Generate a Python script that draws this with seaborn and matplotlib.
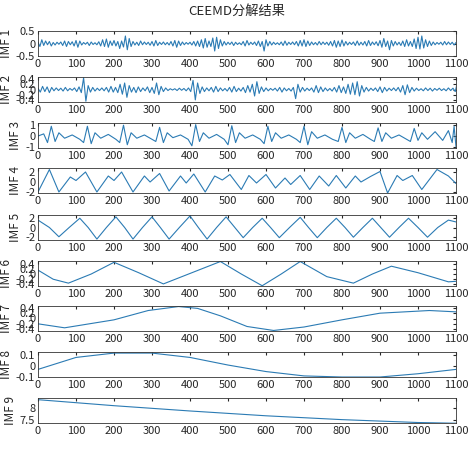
import numpy as np
import pandas as pd
import matplotlib
matplotlib.use('Agg')
import matplotlib.pyplot as plt
import seaborn as sns

sns.set_style('white')
plt.rcParams['font.family'] = ['Noto Sans CJK SC', 'DejaVu Sans']

# IMF 1: noise-like, read every 5 samples
imf1 = [0.05, -0.12, 0.15, -0.08, 0.1, -0.05, 0.08, -0.1, 0.04, -0.06, 0.05, -0.03,
        0.06, -0.08, 0.1, -0.12, 0.08, -0.05, 0.07, -0.1, 0.12, -0.15, 0.1, -0.06,
        0.04, -0.03, 0.05, -0.08, 0.06, -0.04, 0.03, -0.05, 0.07, -0.1, 0.15, -0.12,
        0.18, -0.15, 0.1, -0.08, 0.12, -0.1, 0.08, -0.2, 0.1, -0.14, 0.3, -0.25,
        0.2, -0.12, 0.08, -0.06, 0.05, -0.08, 0.1, -0.05, 0.06, -0.04, 0.05, -0.07,
        0.08, -0.1, 0.12, -0.08, 0.05, -0.04, 0.06, -0.05, 0.04, -0.06, 0.08, -0.1,
        0.12, -0.15, 0.1, -0.08, 0.06, -0.05, 0.04, -0.03, 0.05, -0.06, 0.08, -0.1,
        0.1, -0.12, 0.15, -0.18, 0.2, -0.15, 0.1, -0.12, 0.22, -0.3, 0.25, -0.2,
        0.15, -0.1, 0.08, -0.06, 0.05, -0.04, 0.06, -0.08, 0.05, -0.04, 0.03, -0.05,
        0.08, -0.1, 0.12, -0.06, 0.05, -0.04, 0.06, -0.08, 0.1, -0.12, 0.08, -0.3,
        0.15, -0.1, 0.08, -0.06, 0.05, -0.04, 0.03, -0.05, 0.06, -0.08, 0.1, -0.07,
        0.05, -0.04, 0.06, -0.05, 0.08, -0.1, 0.12, -0.1, 0.15, -0.12, 0.1, -0.08,
        0.06, -0.05, 0.04, -0.06, 0.08, -0.05, 0.06, -0.04, 0.05, -0.07, 0.08, -0.1,
        0.12, -0.15, 0.1, -0.12, 0.14, -0.1, 0.08, -0.06, 0.05, -0.04, 0.06, -0.08,
        0.1, -0.07, 0.05, -0.06, 0.08, -0.1, 0.12, -0.08, 0.06, -0.05, 0.07, -0.09,
        0.12, -0.15, 0.2, -0.12, 0.1, -0.25, 0.12, -0.1, 0.08, -0.06, 0.05, -0.08,
        0.1, -0.12, 0.15, -0.1, 0.08, -0.12, 0.18, -0.2, 0.25, -0.22, 0.3, -0.18,
        0.15, -0.12, 0.1, -0.08, 0.06, -0.05, 0.04, -0.03, 0.05, -0.06, 0.08, -0.05,
        0.06, -0.04, 0.05, -0.06, 0.04, -0.03, 0.05, -0.04, 0.03]

# IMF 2: read every 6 samples
imf2 = [0.05, -0.1, 0.12, -0.08, 0.1, -0.12, 0.08, -0.05, 0.06, -0.04, 0.05, -0.06,
        0.08, -0.05, 0.04, -0.03, 0.06, -0.08, 0.1, -0.12, 0.45, -0.45, 0.15, -0.1,
        0.08, -0.06, 0.05, -0.04, 0.06, -0.05, 0.08, -0.1, 0.12, -0.1, 0.08, -0.12,
        0.2, -0.18, 0.25, -0.3, 0.15, -0.1, 0.08, -0.12, 0.1, -0.08, 0.06, -0.05,
        0.1, -0.12, 0.08, -0.15, 0.25, -0.2, 0.12, -0.08, 0.06, -0.04, 0.03, -0.02,
        0.03, -0.04, 0.05, -0.03, 0.04, -0.05, 0.06, -0.08, 0.35, -0.4, 0.25, -0.15,
        0.1, -0.08, 0.06, -0.05, 0.08, -0.1, 0.12, -0.08, 0.06, -0.05, 0.04, -0.06,
        0.08, -0.1, 0.12, -0.08, 0.05, -0.06, 0.08, -0.12, 0.15, -0.1, 0.2, -0.25,
        0.3, -0.15, 0.1, -0.08, 0.06, -0.05, 0.04, -0.03, 0.05, -0.06, 0.08, -0.1,
        0.06, -0.05, 0.04, -0.06, 0.08, -0.35, 0.2, -0.1, 0.08, -0.06, 0.05, -0.04,
        0.06, -0.1, 0.15, -0.12, 0.1, -0.08, 0.06, -0.05, 0.04, -0.06, 0.08, -0.1,
        0.15, -0.12, 0.1, -0.15, 0.2, -0.18, 0.25, -0.2, 0.3, -0.25, 0.15, -0.1,
        0.08, -0.06, 0.05, -0.04, 0.06, -0.08, 0.1, -0.12, 0.08, -0.06, 0.05, -0.04,
        0.06, -0.05, 0.08, -0.1, 0.15, -0.2, 0.18, -0.12, 0.08, -0.06, 0.05, -0.04,
        0.03, -0.05, 0.06, -0.04, 0.05, -0.06, 0.04, -0.03, 0.05, -0.04, 0.03, -0.05,
        0.06, -0.04, 0.05, -0.08, 0.3, -0.35, 0.4, -0.1]

# IMF 3..9: (sample, value) points
imf3_x = [0, 15, 25, 35, 45, 55, 70, 90, 110, 120, 130, 140, 150, 165, 185, 205, 215, 225,
          235, 245, 260, 280, 300, 310, 320, 330, 340, 355, 375, 395, 405, 415, 425, 435,
          450, 470, 490, 500, 510, 520, 530, 545, 565, 585, 595, 605, 615, 625, 640, 660,
          680, 690, 700, 710, 720, 735, 755, 775, 790, 800, 810, 820, 835, 855, 875, 885,
          895, 905, 915, 930, 950, 970, 980, 990, 1000, 1010, 1025, 1045, 1065, 1080, 1090, 1095, 1100]
imf3_y = [0, 0.2, -0.6, 0.9, -0.5, 0.3, -0.2, 0.1, -0.3, -0.6, 0.9, -0.7, 0.3, -0.2, 0.15,
          -0.3, -0.6, 1.0, -0.8, 0.3, -0.2, 0.1, -0.3, -0.5, 0.8, -0.6, 0.3, -0.15, 0.1,
          -0.3, -0.9, 1.05, -0.5, 0.3, -0.2, 0.15, -0.3, -0.8, 0.95, -0.6, 0.3, -0.2, 0.1,
          -0.3, -0.7, 0.9, -0.5, 0.3, -0.2, 0.1, -0.3, -0.6, 0.9, -0.8, 0.4, -0.2, 0.1,
          -0.3, -0.5, 0.8, -0.6, 0.3, -0.2, 0.15, -0.3, -0.5, 0.75, -0.5, 0.3, -0.2, 0.1,
          -0.3, -0.5, 0.7, -0.4, 0.3, -0.3, 0.4, -0.4, 0.5, -0.6, 0.9, -1.0]

imf4_x = [0, 30, 55, 85, 100, 125, 155, 185, 200, 220, 250, 280, 295, 320, 345, 375, 390,
          410, 440, 465, 485, 505, 535, 555, 575, 600, 625, 650, 665, 690, 715, 740, 765,
          785, 810, 835, 850, 875, 900, 920, 945, 960, 985, 1010, 1050, 1080, 1100]
imf4_y = [-2, 2.5, -2, 1, 0.3, 2, -2, 1.2, 0.3, 2, -2, 1.2, 0, 1.7, -1.8, 1.2, -0.2, 1.6,
          -2, 1.2, 0.4, 1.5, -1.5, 1.3, -0.2, 1.5, -1.2, 0.8, -0.5, 1.3, -1.5, 1.2, -0.8,
          1.3, -1.2, 1.2, 0, 1.1, 2.1, -2.2, 1.3, 0.3, 1.3, -1.5, 2.5, 1.2, -0.3]

imf5_x = [0, 30, 55, 82, 110, 132, 155, 180, 205, 228, 250, 275, 300, 322, 345, 372, 400,
          422, 445, 470, 495, 518, 540, 565, 590, 612, 635, 662, 690, 712, 735, 760, 785,
          808, 830, 855, 880, 902, 925, 950, 975, 1000, 1025, 1052, 1080, 1100]
imf5_y = [1.6, 0, -2, 0, 2, 0, -2.5, 0, 2.3, 0, -2.5, 0, 2.3, 0, -2.5, 0, 2.5, 0, -2.5, 0,
          2.3, 0, -2.2, 0, 2, 0, -2.2, 0, 2.2, 0, -2.2, 0, 2, 0, -2.1, 0, 2, 0, -2.1, 0,
          2, 0, -2.1, 0, 1.6, 1.2]

imf6_x = [0, 40, 80, 140, 200, 265, 330, 405, 480, 535, 590, 640, 690, 760, 830, 880, 930, 1000, 1080, 1100]
imf6_y = [0.15, -0.2, -0.35, 0.0, 0.45, 0.05, -0.38, 0.05, 0.48, 0.0, -0.45, 0.0, 0.48, -0.1, -0.35, 0.0, 0.3, 0.05, -0.3, -0.28]

imf7_x = [0, 70, 200, 290, 370, 420, 480, 550, 620, 700, 800, 900, 1030, 1100]
imf7_y = [-0.2, -0.35, -0.05, 0.3, 0.45, 0.38, 0.1, -0.3, -0.45, -0.32, -0.05, 0.2, 0.3, 0.25]

imf8_x = [0, 100, 200, 300, 400, 500, 600, 700, 800, 900, 1000, 1100]
imf8_y = [-0.03, 0.08, 0.12, 0.12, 0.08, 0.01, -0.05, -0.09, -0.1, -0.1, -0.07, -0.03]

imf9_x = [0, 200, 400, 600, 800, 1000, 1100]
imf9_y = [8.35, 8.1, 7.88, 7.68, 7.52, 7.4, 7.37]

series = [
    (np.arange(len(imf1)) * 5, imf1, (-0.5, 0.5), [-0.5, 0, 0.5]),
    (np.arange(len(imf2)) * 6, imf2, (-0.48, 0.48), [-0.4, -0.2, 0, 0.2, 0.4]),
    (imf3_x, imf3_y, (-1.1, 1.2), [-1, 0, 1]),
    (imf4_x, imf4_y, (-2.2, 2.8), [-2, 0, 2]),
    (imf5_x, imf5_y, (-2.7, 2.7), [-2, 0, 2]),
    (imf6_x, imf6_y, (-0.46, 0.5), [-0.4, -0.2, 0, 0.2, 0.4]),
    (imf7_x, imf7_y, (-0.47, 0.47), [-0.4, -0.2, 0, 0.2, 0.4]),
    (imf8_x, imf8_y, (-0.1, 0.13), [-0.1, 0, 0.1]),
    (imf9_x, imf9_y, (7.38, 8.42), [7.5, 8]),
]

color = '#2b7bb4'
fig = plt.figure(figsize=(4.74, 4.5), dpi=100)
left, width = 38 / 474, 418 / 474
tops = [31, 77, 123, 168, 215, 261, 306, 352, 398]
for i, (x, y, ylim, yt) in enumerate(series):
    ax = fig.add_axes([left, 1 - (tops[i] + 25) / 450, width, 25 / 450])
    df = pd.DataFrame({'x': x, 'y': y})
    sns.lineplot(data=df, x='x', y='y', ax=ax, color=color, linewidth=0.8)
    ax.set_xlim(0, 1100)
    ax.set_ylim(*ylim)
    ax.set_xticks(range(0, 1101, 100))
    ax.set_yticks(yt)
    ax.set_yticklabels([f'{v:g}' for v in yt])
    ax.set_xlabel('')
    ax.set_ylabel(f'IMF {i + 1}', fontsize=8.5, labelpad=2)
    ax.tick_params(labelsize=8, length=2.5, direction='in', pad=2, top=True, right=True)
    for s in ax.spines.values():
        s.set_linewidth(0.6)
        s.set_color('#333333')
fig.text(0.5, 0.975, 'CEEMD分解结果', ha='center', va='center', fontsize=9.5)
fig.savefig('out.png', dpi=100)
